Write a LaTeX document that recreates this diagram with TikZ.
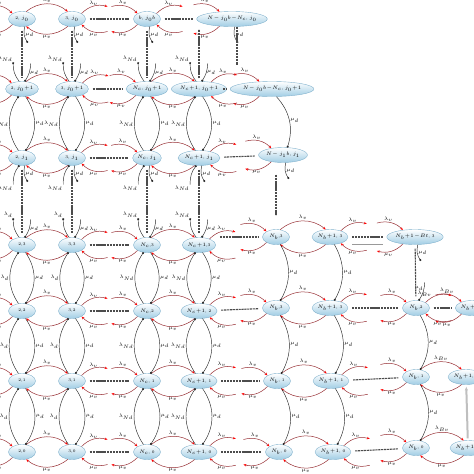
\documentclass[tikz,border=0pt]{standalone}
\usepackage{amssymb}
\usepackage{xcolor}
\usepackage{tikz}
\usetikzlibrary{arrows.meta, positioning, shapes}

\definecolor{arcred}{RGB}{150,45,50}
\definecolor{nodeblue}{RGB}{160,205,228}
\definecolor{nodeline}{RGB}{130,178,205}

\begin{document}
\begin{tikzpicture}[x=1pt, y=-1pt, node distance=50pt, on grid, auto,
  st/.style={ellipse, draw=nodeline, top color=white, bottom color=nodeblue,
    inner sep=0.4pt, minimum width=27pt, minimum height=15pt, font=\fontsize{4}{4.5}\selectfont},
  vv/.style={draw=arcred, line width=0.5pt, -{Stealth[length=3pt, width=2.4pt, color=red]}},
  dd/.style={draw=black!85, line width=0.45pt, -{Square[length=1.6pt, width=1.6pt]}},
  gapline/.style={draw=black!70, line width=1.1pt, dash pattern=on 2.2pt off 0.7pt},
  lab/.style={font=\fontsize{5}{5}\selectfont, inner sep=0.8pt}]
\useasboundingbox (0,0) rectangle (474,474);

\node (a0) [st] at (22,19) {2, $j_0$};
\node (b0) [st, right=50pt of a0] {3, $j_0$};
\node (c0) [st, right=75pt of b0] {$b$, $j_0b$};
\node (t0) [st, right=85pt of c0] {$N\!-j_0b\!-\!N_c$, $j_0$};

\node (a1) [st, below=70pt of a0] {2, $j_0\!+\!1$};
\node (b1) [st, right=50pt of a1] {3, $j_0\!+\!1$};
\node (c1) [st, right=75pt of b1] {$N_c$, $j_0\!+\!1$};
\node (d1) [st, right=52pt of c1] {$N_c\!+\!1$, $j_0\!+\!1$};
\node (t1) [st, right=73pt of d1] {$N\!-j_0b\!-\!N_c$, $j_0\!+\!1$};

\node (a2) [st, below=69pt of a1] {2, $j_1$};
\node (b2) [st, right=50pt of a2] {3, $j_1$};
\node (c2) [st, right=75pt of b2] {$N_c$, $j_1$};
\node (d2) [st, right=52pt of c2] {$N_c\!+\!1$, $j_1$};
\node (t2) [st, above right=3pt and 84pt of d2] {$N\!-j_1b$, $j_1$};

\node (a3) [st, below=87pt of a2] {2,3};
\node (b3) [st, right=50pt of a3] {3,3};
\node (c3) [st, right=75pt of b3] {$N_c$,3};
\node (d3) [st, right=52pt of c3] {$N_c\!+\!1$,3};
\node (e3) [st, above right=8pt and 77pt of d3] {$N_b$,3};
\node (f3) [st, right=54pt of e3] {$N_b\!+\!1$, 3};
\node (g3) [st, right=85pt of f3] {$N_b\!+\!1\!-\!Bt$, 3};

\node (a4) [st, below=66pt of a3] {2,2};
\node (b4) [st, right=50pt of a4] {3,2};
\node (c4) [st, right=75pt of b4] {$N_c$,2};
\node (d4) [st, right=52pt of c4] {$N_c\!+\!1$, 2};
\node (e4) [st, above right=3pt and 77pt of d4] {$N_b$,3};
\node (f4) [st, right=54pt of e4] {$N_b\!+\!1$, 3};
\node (g4) [st, right=86pt of f4] {$N_b$,2};
\node (h4) [st, right=56pt of g4] {$N_b\!+\!1$,2};

\node (a5) [st, below=70pt of a4] {2,1};
\node (b5) [st, right=50pt of a5] {3,1};
\node (c5) [st, right=75pt of b5] {$N_c$, 1};
\node (d5) [st, right=52pt of c5] {$N_c\!+\!1$, 1};
\node (e5) [st, right=78pt of d5] {$N_b$, 1};
\node (f5) [st, right=54pt of e5] {$N_b\!+\!1$, 1};
\node (g5) [st, above right=4pt and 85pt of f5] {$N_b$, 1};
\node (h5) [st, right=50pt of g5] {$N_b\!+\!1$, 1};

\node (a6) [st, below=71pt of a5] {2,0};
\node (b6) [st, right=50pt of a6] {3,0};
\node (c6) [st, right=75pt of b6] {$N_c$, 0};
\node (d6) [st, right=52pt of c6] {$N_c\!+\!1$, 0};
\node (e6) [st, right=80pt of d6] {$N_b$, 0};
\node (f6) [st, right=54pt of e6] {$N_b\!+\!1$, 0};
\node (g6) [st, above right=4pt and 83pt of f6] {$N_b$, 0};
\node (h6) [st, right=52pt of g6] {$N_b\!+\!1$, 0};

\coordinate (t0end) at ([xshift=5pt, yshift=-38pt]t0.south);

\foreach \l/\r/\s in {a0/b0/v, a1/b1/v, a2/b2/v, a3/b3/v, a4/b4/v, a5/b5/v, a6/b6/v,
    c1/d1/v, c2/d2/v, c3/d3/v, c4/d4/v, c5/d5/v, c6/d6/v,
    e3/f3/v, e4/f4/v, e5/f5/v, e6/f6/v, g5/h5/{Bv}, g6/h6/{Bv}}
{
  \draw[vv] (\l.60) to[bend left=40] node[lab, above] {$\lambda_{\s}$} (\r.120);
  \draw[vv] (\r.240) to[bend left=40] node[lab, below] {$\mu_v$} (\l.300);
}

\foreach \n/\s in {a0/v, a1/v, a2/v, a3/v, a4/v, a5/v, a6/v, c0/v, c1/v, c2/v, c3/v, c4/v, c5/v, c6/v,
    t0/v, t1/v, t2/v, e3/v, e4/v, e5/v, e6/v, g3/v, g4/v, g5/v, g6/v, h4/{Bv}}
{
  \draw[vv] ([shift={(-26pt,7pt)}]\n.150) to[bend left=30] node[lab, above, pos=.4] {$\lambda_{\s}$} (\n.150);
  \draw[vv] (\n.210) to[bend left=30] node[lab, below, pos=.6] {$\mu_v$} ([shift={(-26pt,-7pt)}]\n.210);
}

\foreach \n/\s in {b0/v, b1/v, b2/v, b3/v, b4/v, b5/v, b6/v, c0/v, d1/v, d2/v, d3/v, d4/v, d5/v, d6/v,
    f3/v, f4/v, f5/v, f6/v}
{
  \draw[vv] (\n.30) to[bend left=30] node[lab, above] {$\lambda_{\s}$} ([shift={(26pt,7pt)}]\n.30);
  \draw[vv] ([shift={(26pt,-7pt)}]\n.330) to[bend left=30] node[lab, below] {$\mu_v$} (\n.330);
}
\draw[vv] (g4.30) to[bend left=30] node[lab, above left, pos=.3] {$\lambda_{Bv}$} ([shift={(26pt,7pt)}]g4.30);
\draw[vv] ([shift={(26pt,-7pt)}]g4.330) to[bend left=30] node[lab, below] {$\mu_v$} (g4.330);

\foreach \u/\w/\s in {a1/a2/{Nd}, b1/b2/{Nd}, c1/c2/{Nd}, d1/d2/{Nd},
    a3/a4/d, a4/a5/d, a5/a6/d, b3/b4/d, b4/b5/d, b5/b6/d,
    c3/c4/{Nd}, c4/c5/{Nd}, c5/c6/{Nd}, d3/d4/{Nd}, d4/d5/{Nd}, d5/d6/{Nd}}
{
  \draw[dd] (\w.115) to[bend left=35] node[lab, left] {$\lambda_{\s}$} (\u.245);
  \draw[dd] (\u.295) to[bend left=35] node[lab, right] {$\mu_d$} (\w.65);
}

\foreach \u/\w in {t1/t2, e3/e4, e4/e5, e5/e6, f3/f4, f4/f5, f5/f6, g4/g5, g5/g6}
  \draw[dd] (\u.300) to[bend left=30] node[lab, right] {$\mu_d$} (\w.60);

\foreach \n in {a0, b0, c0, t0, a2, b2, c2, d2, t2, g3}
  \draw[dd] (\n.290) to[bend right=25] node[lab, right] {$\mu_d$} ([shift={(3pt,-16pt)}]\n.290);

\foreach \n in {a2, b2, c2, d2}
  \draw[dd] ([shift={(-6pt,-19pt)}]\n.250) to[bend left=20] node[lab, below left, pos=0] {$\lambda_{Nd}$} (\n.250);

\foreach \n/\s in {a1/{Nd}, b1/{Nd}, c1/{Nd}, d1/{Nd}, a3/d, b3/d, c3/{Nd}, d3/{Nd}}
{
  \draw[dd] (\n.110) to[bend left=20] node[lab, above left, pos=1] {$\lambda_{\s}$} ([shift={(-6pt,19pt)}]\n.110);
  \draw[dd] ([shift={(6pt,18pt)}]\n.70) to[bend left=15] node[lab, right] {$\mu_d$} (\n.70);
}
\draw[dd] ([shift={(6pt,18pt)}]g4.70) to[bend left=15] node[lab, left, pos=.3] {$\mu_d$} (g4.70);

\foreach \u/\w in {a0/a1, b0/b1, c0/c1, a2/a3, b2/b3, c2/c3, d2/d3, g3/g4}
  \draw[gapline, shorten <=4pt, shorten >=4pt] (\u) -- (\w);
\draw[gapline, shorten <=3pt, shorten >=10pt] (d1) -- (d1 |- c0);
\draw[gapline] (t0.south -| t0end) -- (t0end);
\draw[gapline, shorten <=12pt, shorten >=14pt] (e3 |- t2.south) -- (e3.north);

\foreach \l/\r in {b0/c0, b1/c1, b2/c2, b3/c3, b4/c4, b5/c5, b6/c6, c0/t0, d1/t1, d2/t2,
    d4/e4, d5/e5, d6/e6, f3/g3, f4/g4, f5/g5, f6/g6, g4/h4}
  \draw[gapline, shorten <=4pt, shorten >=4pt] (\l) -- (\r);
\draw[gapline, shorten <=4pt, shorten >=4pt] (d3.east |- e3) -- (e3.west);
\draw[black!40, line width=0.5pt, shorten <=4pt, shorten >=4pt] ([yshift=-7pt]f3.east) -- ([yshift=-7pt]g3.west);
\draw[black!25, line width=2pt, -{Stealth[length=4pt]}, shorten <=2pt, shorten >=2pt] (h6) -- (h5);
\end{tikzpicture}
\end{document}
